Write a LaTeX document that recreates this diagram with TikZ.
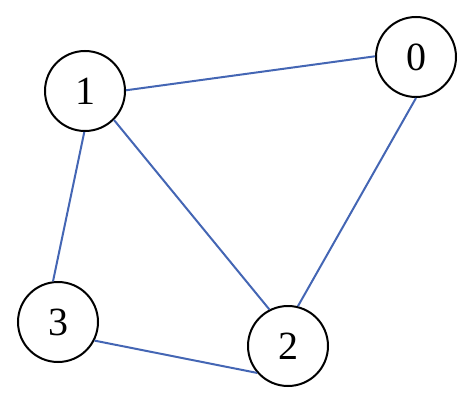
\documentclass[tikz,border=0pt]{standalone}
\usepackage{fontspec}
\setmainfont{Liberation Serif}
\definecolor{edgeblue}{RGB}{68,102,180}
\begin{document}
\begin{tikzpicture}[x=1pt,y=-1pt,
  vertex/.style={circle,draw=black,line width=2pt,minimum size=80pt,inner sep=0pt,font=\fontsize{40}{40}\selectfont},
  edge/.style={draw=edgeblue,line width=2pt}]
\useasboundingbox (0,0) rectangle (474,404);
\node[vertex] (n0) at (416,57) {0};
\node[vertex] (n1) at (85,91) {1};
\node[vertex] (n3) at (58,322) {3};
\node[vertex] (n2) at (288,346) {2};
\draw[edge] (n1.1) -- (n0.179);
\draw[edge] (n1.-91) -- (n3.97);
\draw[edge] (n1.-45) -- (n2.117);
\draw[edge] (n0.-90) -- (n2.76);
\draw[edge] (n3.-27) -- (n2.-139);
\end{tikzpicture}
\end{document}
